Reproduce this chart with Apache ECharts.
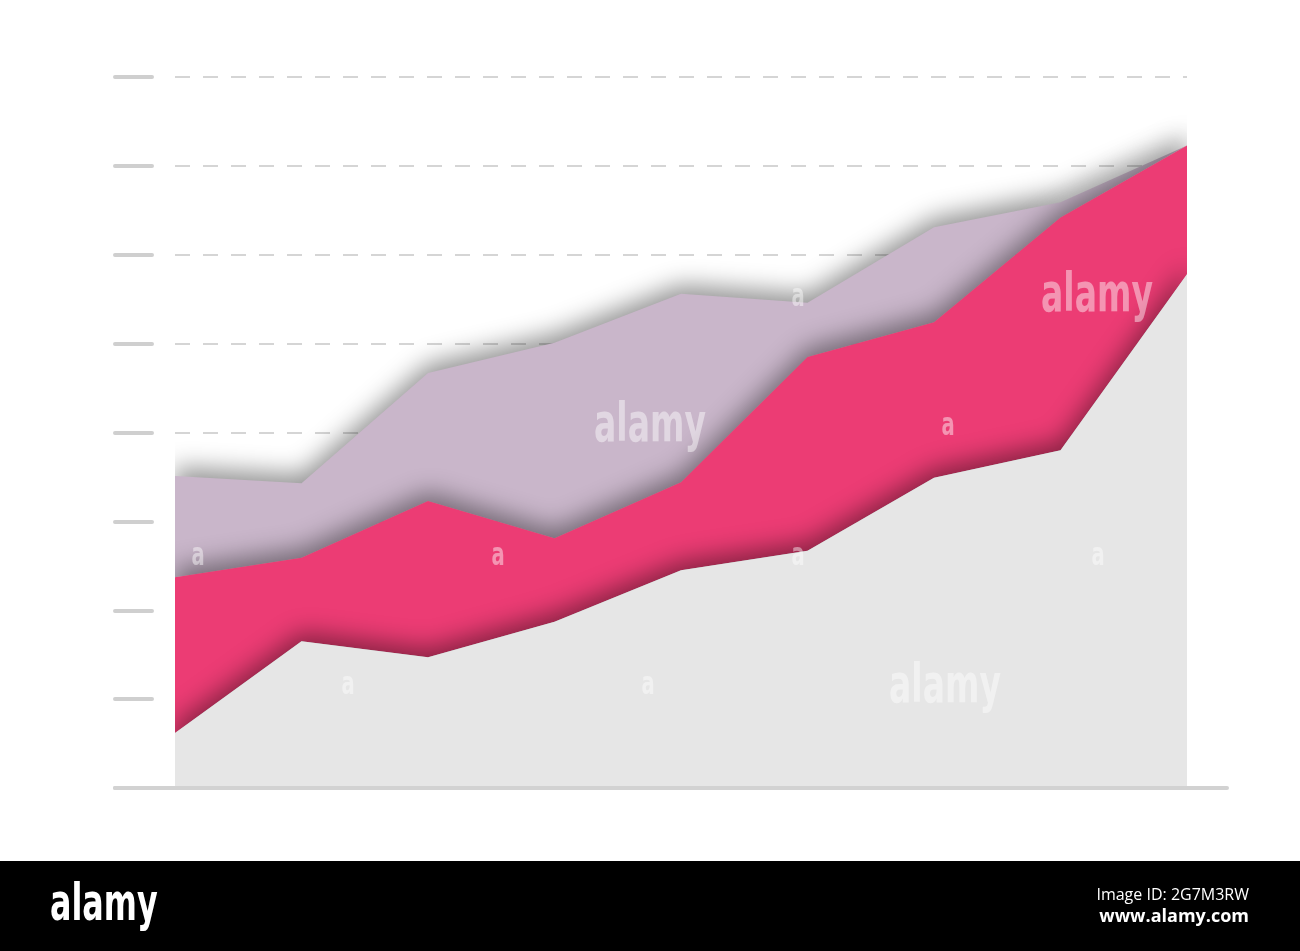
<!DOCTYPE html>
<html>
<head>
<meta charset="utf-8">
<script src="https://cdn.jsdelivr.net/npm/echarts@6/dist/echarts.min.js"></script>
<style>
html,body{margin:0;padding:0;background:#fff;}
#chart{width:1300px;height:951px;}
</style>
</head>
<body>
<div id="chart"></div>
<script>
// ---- data ----
const categories = ['P1','P2','P3','P4','P5','P6','P7','P8','P9'];
const greyLayer     = [0.62, 1.65, 1.47, 1.87, 2.45, 2.67, 3.49, 3.80, 5.78];
const pinkLayer     = [1.75, 0.94, 1.76, 0.94, 0.99, 2.18, 1.75, 2.62, 1.45];
const lavenderLayer = [1.14, 0.84, 1.44, 2.20, 2.12, 0.61, 1.07, 0.17, 0.00];
const yMin = 0, yMax = 8, yStep = 1;

const chart = echarts.init(document.getElementById('chart'), null, {renderer:'canvas'});

function layer(name, data, color, z) {
  return {
    name: name, type: 'line', stack: 'total', data: data,
    xAxisIndex: 0, yAxisIndex: 0,
    symbol: 'none', smooth: false, clip: true, z: z,
    lineStyle: { width: 0, opacity: 0 },
    areaStyle: {
      color: color, opacity: 1,
      shadowBlur: 24, shadowColor: 'rgba(0,0,0,0.42)', shadowOffsetY: -9
    },
    emphasis: { disabled: true }
  };
}

const condensed = '"Liberation Sans Narrow", "DejaVu Sans Condensed", "Liberation Sans", sans-serif';
function wm(text, x, y, size) {
  return {
    type: 'text', x: x, y: y, scaleX: 0.68, z: 100, silent: true,
    style: { text: text, fill: 'rgba(255,255,255,0.45)',
      font: 'bold ' + size + 'px ' + condensed, textAlign: 'center', textVerticalAlign: 'middle' }
  };
}

const option = {
  animation: false,
  backgroundColor: '#ffffff',
  grid: [
    { left: 175, right: 113, top: 77, bottom: 163 },
    { left: 115, right: 73, top: 77, bottom: 163 }
  ],
  xAxis: [
    { type: 'category', gridIndex: 0, data: categories, boundaryGap: false,
      axisLine: {show:false}, axisTick: {show:false}, axisLabel: {show:false}, splitLine: {show:false} },
    { type: 'value', gridIndex: 1, min: 0, max: 1, z: 10,
      axisLine: { show: true, lineStyle: { color: '#d2d2d2', width: 4, cap: 'round' } },
      axisTick: {show:false}, axisLabel: {show:false}, splitLine: {show:false} }
  ],
  yAxis: [
    { type: 'value', gridIndex: 0, min: yMin, max: yMax, interval: yStep, offset: 23,
      axisLine: { show: false },
      axisTick: { show: true, inside: false, length: 37, lineStyle: { color: '#cfcfcf', width: 4, cap: 'round' } },
      axisLabel: { show: false },
      splitLine: { show: true, lineStyle: { color: '#c8c8c8', width: 1.5, type: [15, 13] } } },
    { type: 'value', gridIndex: 1, show: false, min: 0, max: 1 }
  ],
  series: [
    layer('Grey', greyLayer, '#e6e6e6', 5),
    layer('Pink', pinkLayer, '#ec3c74', 4),
    layer('Lavender', lavenderLayer, '#c9b6ca', 3)
  ],
  graphic: [
    // watermarks
    wm('alamy', 650, 427, 54), wm('alamy', 1097, 297, 54), wm('alamy', 945, 688, 54),
    wm('a', 198, 557, 32), wm('a', 498, 557, 32), wm('a', 798, 557, 32), wm('a', 1098, 557, 32),
    wm('a', 348, 686, 32), wm('a', 648, 686, 32), wm('a', 798, 298, 32), wm('a', 948, 427, 32),
    // footer band
    { type: 'rect', x: 0, y: 861, z: 90, silent: true,
      shape: { width: 1300, height: 90 }, style: { fill: '#000000' } },
    { type: 'text', x: 50, y: 906, scaleX: 0.68, z: 95, silent: true,
      style: { text: 'alamy', fill: '#ffffff',
        font: 'bold 52px ' + condensed, textAlign: 'left', textVerticalAlign: 'middle' } },
    { type: 'text', x: 1249, y: 895, z: 95, silent: true,
      style: { text: 'Image ID: 2G7M3RW', fill: '#ffffff', textAlign: 'right', textVerticalAlign: 'middle',
        font: '16px "Open Sans", "Noto Sans", sans-serif' } },
    { type: 'text', x: 1249, y: 917, z: 95, silent: true,
      style: { text: 'www.alamy.com', fill: '#ffffff', textAlign: 'right', textVerticalAlign: 'middle',
        font: 'bold 18px "Open Sans", "Noto Sans", sans-serif' } }
  ]
};
chart.setOption(option);
</script>
</body>
</html>
